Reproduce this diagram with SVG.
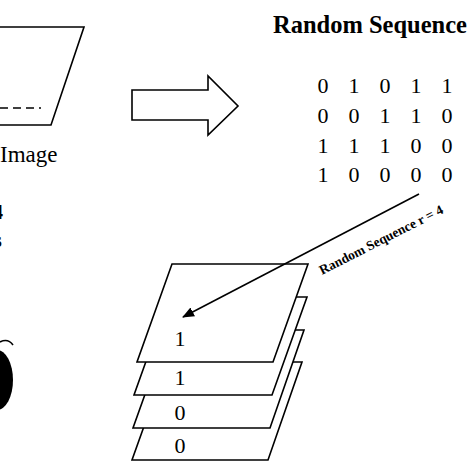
<svg xmlns="http://www.w3.org/2000/svg" width="474" height="474" viewBox="0 0 474 474">
<style>
.ln{fill:none;stroke:#000;stroke-width:1.6}
.sh{fill:#fff;stroke:#000;stroke-width:1.6;stroke-linejoin:miter}
.t{font-family:"Liberation Serif","Times New Roman",serif;fill:#000}
.b{font-weight:bold}
.dg{font-size:22px;text-anchor:middle}
</style>
<defs>
<marker id="ah" markerWidth="12" markerHeight="10" refX="11" refY="5" orient="auto" markerUnits="userSpaceOnUse">
<path d="M0,0 L12,5 L0,10 Z" fill="#000"/>
</marker>
</defs>
<rect width="474" height="474" fill="#fff"/>

<g id="image">
<path class="ln" d="M0,27 L84,27 L51,125 L0,125"/>
<path class="ln" d="M0,108 L41,108" stroke-dasharray="8,5"/>
<text class="t" x="0" y="162" font-size="23">Image</text>
</g>

<g id="left-fragments">
<text class="t b" x="-7" y="219" font-size="20">4</text>
<text class="t b" x="-6" y="247" font-size="20">s</text>
<ellipse cx="-3" cy="380" rx="16" ry="30" fill="#000"/>
<path class="ln" d="M0,342 Q8,338 13,345" stroke-width="1.3"/>
</g>

<g id="block-arrow">
<polygon class="sh" points="132,90 208,90 208,76 238,106 208,135 208,120 132,120"/>
</g>

<g id="random-sequence">
<text class="t b" x="273" y="33" font-size="24.5">Random Sequence</text>
<g class="t dg">
<text x="323" y="93">0</text><text x="354" y="93">1</text><text x="385" y="93">0</text><text x="416" y="93">1</text><text x="447" y="93">1</text>
<text x="323" y="123">0</text><text x="354" y="123">0</text><text x="385" y="123">1</text><text x="416" y="123">1</text><text x="447" y="123">0</text>
<text x="323" y="153">1</text><text x="354" y="153">1</text><text x="385" y="153">1</text><text x="416" y="153">0</text><text x="447" y="153">0</text>
<text x="323" y="182">1</text><text x="354" y="182">0</text><text x="385" y="182">0</text><text x="416" y="182">0</text><text x="447" y="182">0</text>
</g>
</g>

<g id="stack">
<g id="sheet4">
<polygon class="sh" points="167,362 302,362 268,460 132,460"/>
<text class="t dg" x="180" y="453">0</text>
</g>
<g id="sheet3">
<polygon class="sh" points="168,330 304,330 270,428 133,428"/>
<text class="t dg" x="180" y="420">0</text>
</g>
<g id="sheet2">
<polygon class="sh" points="169,297 307,297 272,395 134,395"/>
<text class="t dg" x="180" y="385">1</text>
</g>
<g id="sheet1">
<polygon class="sh" points="172,264 308,264 273,362 137,362"/>
<text class="t dg" x="180" y="346">1</text>
</g>
</g>

<g id="connectors">
<line class="ln" x1="419" y1="194" x2="183" y2="317" stroke-width="1.5" marker-end="url(#ah)"/>
<text class="t b" x="322" y="275" font-size="13.5" transform="rotate(-27 322 275)">Random Sequence r = 4</text>
</g>
</svg>
